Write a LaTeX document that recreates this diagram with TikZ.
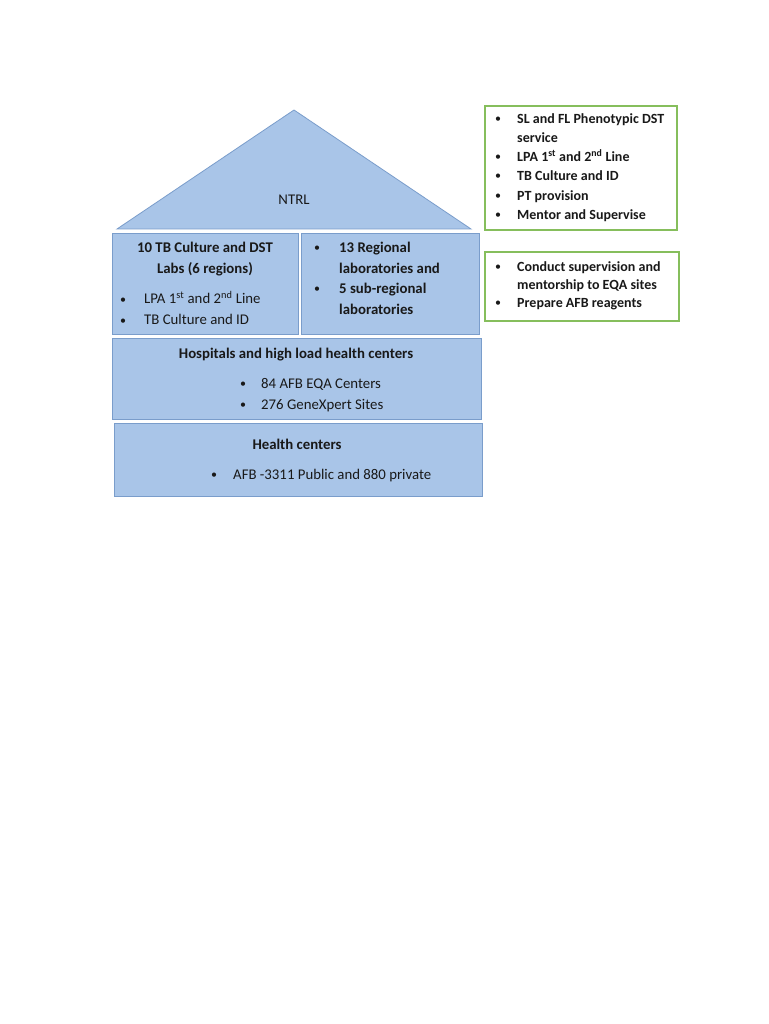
\documentclass[tikz,border=0pt]{standalone}
\usepackage{fontspec}
\setmainfont{Carlito}
\definecolor{boxfill}{RGB}{169,197,232}
\definecolor{boxline}{RGB}{122,157,203}
\definecolor{greenline}{RGB}{134,190,92}
\definecolor{txt}{RGB}{25,25,25}
\tikzset{
  blue box/.style={draw=boxline, fill=boxfill, line width=0.8pt},
  green box/.style={draw=greenline, fill=white, line width=1.4pt},
  txt/.style={inner sep=0pt, text=txt, font=\fontsize{14.8}{17}\selectfont},
  btxt/.style={txt, font=\fontsize{14.8}{17}\selectfont\bfseries},
  gtxt/.style={txt, font=\fontsize{14}{16}\selectfont\bfseries},
  bul/.style={inner sep=0pt, text=txt, font=\fontsize{12}{14}\selectfont},
}
\newcommand{\bul}{•}
\begin{document}
\begin{tikzpicture}[x=1pt,y=-1pt]
\useasboundingbox[fill=white] (0,0) rectangle (768,1024);
% house
\filldraw[blue box] (294,110) -- (471,229) -- (117,229) -- cycle;
\node[txt, anchor=mid] (ntrl) at (294,202) {NTRL};
% second row
\draw[blue box] (112,233) rectangle (298,334);
\draw[blue box] (301,233) rectangle (479,334);
\node[btxt, anchor=mid] (l1) at (205,250) {10 TB Culture and DST};
\node[btxt, anchor=mid] (l2) at (205,271) {Labs (6 regions)};
\node[bul, anchor=mid] (lb1) at (123,301) {\bul};
\node[txt, anchor=mid west] (l3) at (144,301) {LPA 1\textsuperscript{st} and 2\textsuperscript{nd} Line};
\node[bul, anchor=mid] (lb2) at (123,322) {\bul};
\node[txt, anchor=mid west] (l4) at (144,322) {TB Culture and ID};
\node[bul, anchor=mid] (rb1) at (317,249) {\bul};
\node[btxt, anchor=mid west] (r1) at (339,250) {13 Regional};
\node[btxt, anchor=mid west] (r2) at (339,271) {laboratories and};
\node[bul, anchor=mid] (rb2) at (317,290) {\bul};
\node[btxt, anchor=mid west] (r3) at (339,291) {5 sub-regional};
\node[btxt, anchor=mid west] (r4) at (339,312) {laboratories};
% hospitals
\draw[blue box] (112,338) rectangle (481,419);
\node[btxt, anchor=mid] (h1) at (296,356) {Hospitals and high load health centers};
\node[bul, anchor=mid] (hb1) at (243,385) {\bul};
\node[txt, anchor=mid west] (h2) at (261,386) {84 AFB EQA Centers};
\node[bul, anchor=mid] (hb2) at (243,406) {\bul};
\node[txt, anchor=mid west] (h3) at (261,407) {276 GeneXpert Sites};
% health centers
\draw[blue box] (114,423) rectangle (482,496);
\node[btxt, anchor=mid] (c1) at (297,447) {Health centers};
\node[bul, anchor=mid] (cb1) at (214,476) {\bul};
\node[txt, anchor=mid west] (c2) at (233,477) {AFB -3311 Public and 880 private};
% green box 1
\draw[green box] (485,106) rectangle (677,230);
\node[bul, anchor=mid] (g1b1) at (498,120) {\bul};
\node[gtxt, anchor=mid west] (g11) at (517,121) {SL and FL Phenotypic DST};
\node[gtxt, anchor=mid west] (g12) at (517,140) {service};
\node[bul, anchor=mid] (g1b2) at (498,158) {\bul};
\node[gtxt, anchor=mid west] (g13) at (517,159) {LPA 1\textsuperscript{st} and 2\textsuperscript{nd} Line};
\node[bul, anchor=mid] (g1b3) at (498,177) {\bul};
\node[gtxt, anchor=mid west] (g14) at (517,178) {TB Culture and ID};
\node[bul, anchor=mid] (g1b4) at (498,197) {\bul};
\node[gtxt, anchor=mid west] (g15) at (517,198) {PT provision};
\node[bul, anchor=mid] (g1b5) at (498,216) {\bul};
\node[gtxt, anchor=mid west] (g16) at (517,217) {Mentor and Supervise};
% green box 2
\draw[green box] (485,252) rectangle (679,321);
\node[bul, anchor=mid] (g2b1) at (498,268) {\bul};
\node[gtxt, anchor=mid west] (g21) at (517,269) {Conduct supervision and};
\node[gtxt, anchor=mid west] (g22) at (517,287) {mentorship to EQA sites};
\node[bul, anchor=mid] (g2b2) at (498,304) {\bul};
\node[gtxt, anchor=mid west] (g23) at (517,305) {Prepare AFB reagents};
\end{tikzpicture}
\end{document}
